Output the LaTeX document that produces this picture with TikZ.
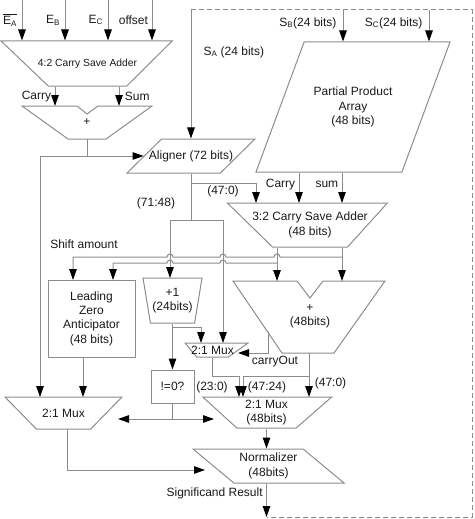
\documentclass[tikz,border=0pt]{standalone}
\usepackage{fontspec}
\setmainfont{Liberation Sans}
\usetikzlibrary{arrows.meta, shapes.geometric}
\definecolor{wire}{gray}{0.55}
\definecolor{ink}{gray}{0.1}
\definecolor{loop}{gray}{0.65}

\begin{document}
\begin{tikzpicture}[x=1pt, y=-1pt, line width=1pt, color=wire,
	>={Triangle[length=11pt, width=7.5pt, color=black]},
	every node/.style={text=ink, font=\fontsize{12}{14.3}\selectfont},
	trap/.style={draw, trapezium, trapezium stretches=true, inner sep=1pt},
	box/.style={draw, align=center, inner sep=0pt}]
	\useasboundingbox (0,0) rectangle (474,519);
	\coordinate (ea) at (22,0);
	\coordinate (eb) at (65,0);
	\coordinate (ec) at (108,0);
	\coordinate (of) at (152,0);
	\coordinate (sa) at (191,10);
	\coordinate (sb) at (343,10);
	\coordinate (sc) at (429,10);
	\coordinate (res) at (266.5,517);
	\node[trap, trapezium left angle=121, trapezium right angle=120, minimum width=171, minimum height=45] (csa4) at (87.5,63.5) {};
	\node[font=\fontsize{10.3}{12}\selectfont] (csa4t) at (csa4) {4:2 Carry Save Adder};
	\node[trap, trapezium left angle=59.5, trapezium right angle=120.5, minimum width=128, minimum height=34] (alg) at (191,156) {};
	\node (algt) at (alg) {Aligner (72 bits)};
	\node[trap, trapezium left angle=63.8, trapezium right angle=116.2, minimum width=194, minimum height=130] (ppa) at (353,107) {};
	\node[align=center] (ppat) at (ppa) {Partial Product\\Array\\(48 bits)};
	\node[trap, trapezium left angle=121, trapezium right angle=118, minimum width=160, minimum height=44] (csa3) at (310,225) {};
	\node[align=center] (csa3t) at (csa3) {3:2 Carry Save Adder\\(48 bits)};
	\node[box, minimum width=87, minimum height=77] (lza) at (91.5,318.5) {Leading\\Zero\\Anticipator\\(48 bits)};
	\node[trap, trapezium left angle=99.5, trapezium right angle=99.5, minimum width=59, minimum height=45] (inc) at (172.5,300.5) {};
	\node[align=center] (inct) at (inc) {+1\\(24bits)};
	\node[trap, trapezium left angle=110, trapezium right angle=122, minimum width=63, minimum height=14] (smux) at (212.5,350) {};
	\node (smuxt) at (smux) {2:1 Mux};
	\node[box, minimum width=43, minimum height=33] (neq) at (172.5,386.5) {!=0?};
	\node[trap, trapezium left angle=120, trapezium right angle=120, minimum width=117, minimum height=32] (lmux) at (63.5,413) {};
	\node (lmuxt) at (lmux) {2:1 Mux};
	\node[trap, trapezium left angle=120, trapezium right angle=121, minimum width=129, minimum height=31] (bmux) at (266.5,412.5) {};
	\node[align=center] (bmuxt) at (bmux) {2:1 Mux\\(48bits)};
	\node[trap, trapezium left angle=120.5, trapezium right angle=59.5, minimum width=151, minimum height=34] (norm) at (268.5,466) {};
	\node[align=center] (normt) at (norm) {Normalizer\\(48bits)};
	\draw (22,106) -- (77,106) -- (87,114) -- (98,106) -- (152,106) -- (106,139) -- (68,139) -- cycle;
	\node (add1) at (87,122) {+};
	\draw (233,281) -- (297,281) -- (310,298) -- (323,281) -- (385,281) -- (334,353) -- (282,353) -- cycle;
	\node[align=center] (add2) at (310,316.5) {+\\(48bits)};
	\coordinate (a1c) at (55,106);
	\coordinate (a1s) at (119,106);
	\coordinate (a1o) at (87,139);
	\coordinate (j1) at (87,156);
	\coordinate (j2) at (191,183);
	\coordinate (j3) at (191,220);
	\coordinate (c3a) at (256,203);
	\coordinate (c3b) at (299,203);
	\coordinate (c3c) at (342,203);
	\coordinate (a2c) at (277,281);
	\coordinate (a2s) at (342,281);
	\coordinate (s1) at (342,257);
	\coordinate (c1) at (277,263);
	\coordinate (z1) at (73,280);
	\coordinate (z2) at (113,280);
	\coordinate (p1) at (170,278);
	\coordinate (sm1) at (201,343);
	\coordinate (sm2) at (223,343);
	\coordinate (sm3) at (238,353);
	\coordinate (j4) at (172.5,327);
	\coordinate (cout) at (268,332);
	\coordinate (a2o) at (309,353);
	\coordinate (j6) at (212.5,376);
	\coordinate (j7) at (309,376);
	\coordinate (bm1) at (214,419);
	\coordinate (bm2) at (239,397);
	\coordinate (bm3) at (309,397);
	\coordinate (bm4) at (243,397);
	\coordinate (lm1) at (40,397);
	\coordinate (lm2) at (83,397);
	\coordinate (lm3) at (118,419);
	\coordinate (lmo) at (67,429);
	\coordinate (nm1) at (205,470);
	\foreach \p in {ea,eb,ec,of}
		\draw[->] (\p) -- (\p |- csa4.north);
	\node[left, inner sep=1.5pt] (eat) at (19,20) {$\overline{\hbox{E\textsubscript{A}}}$};
	\node[left, inner sep=1.5pt] (ebt) at (62,20) {E\textsubscript{B}};
	\node[left, inner sep=1.5pt] (ect) at (105,20) {E\textsubscript{C}};
	\node[left, inner sep=1.5pt] (oft) at (150,20) {offset};
	\draw[->] (a1c |- csa4.south) -- (a1c) node[midway, left] (cyl) {Carry};
	\draw[->] (a1s |- csa4.south) -- (a1s) node[midway, right, xshift=2pt] (suml) {Sum};
	\draw[->] (a1o) |- (alg.west);
	\draw[->] (j1) -| (lm1);
	\draw[->] (sa) -- (alg.north);
	\node[right, inner sep=0pt] (sat) at (203,52) {S\textsubscript{A} (24 bits)};
	\draw[loop, dash pattern=on 5pt off 3pt] (sa) -- (472,10) -- (472,517) -- (res);
	\draw[->] (sb) -- (sb |- ppa.north);
	\draw[->] (sc) -- (sc |- ppa.north);
	\node[left, inner sep=2pt] (sbt) at (339,23) {S\textsubscript{B}(24 bits)};
	\node[left, inner sep=2pt] (sct) at (425,23) {S\textsubscript{C}(24 bits)};
	\draw[->] (c3b |- ppa.south) -- (c3b) node[pos=0.38, left] (cyl2) {Carry};
	\draw[->] (c3c |- ppa.south) -- (c3c) node[pos=0.38, left] (suml2) {sum};
	\draw (alg.south) -- (j3);
	\draw[->] (j2) -| (c3a);
	\node (lo) at (223,191) {(47:0)};
	\node (hi) at (156,203) {(71:48)};
	\draw[->] (j3) -| (p1);
	\draw[->] (j3) -| (sm2);
	\draw[->] (a2c |- csa3.south) -- (a2c);
	\draw[->] (a2s |- csa3.south) -- (a2s);
	\draw[->] (s1) -- (280,257) arc(0:180:3pt) -- (226,257) arc(0:180:3pt) -- (173,257) arc(0:180:3pt) -| (z1);
	\draw[->] (c1) -- (226,263) arc(0:180:3pt) -- (173,263) arc(0:180:3pt) -| (z2);
	\node (sha) at (84,244) {Shift amount};
	\draw[->] (lm2 |- lza.south) -- (lm2);
	\draw[->] (inc.south) -- (inc.south |- neq.north);
	\draw[->] (j4) -| (sm1);
	\draw[->] (neq.south) |- (lm3);
	\draw[->] (neq.south) |- (bm1);
	\draw[->] (cout) |- (sm3);
	\node (cot) at (275,362) {carryOut};
	\draw[->] (smux.south) -- (j6) -| (bm2);
	\draw[->] (a2o) -- (bm3) node[pos=0.68, right, xshift=2pt] (l470) {(47:0)};
	\draw[->] (j7) -| (bm4);
	\node (l230) at (212,387) {(23:0)};
	\node (l4724) at (267,387) {(47:24)};
	\draw[->] (lmo) |- (nm1);
	\draw[->] (bmux.south) -- (bmux.south |- norm.north);
	\draw[->] (bmux.south |- norm.south) -- (res) node[pos=0.3, left] (sig) {Significand Result};
\end{tikzpicture}
\end{document}
